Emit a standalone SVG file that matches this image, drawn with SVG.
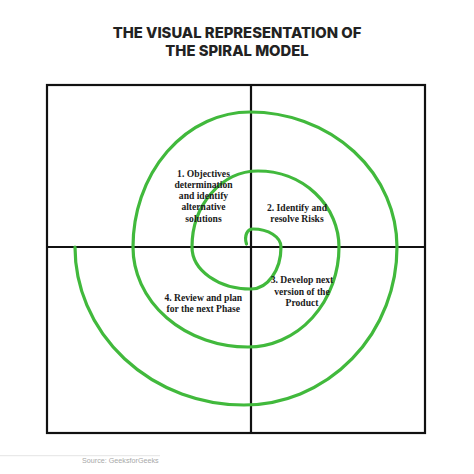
<svg xmlns="http://www.w3.org/2000/svg" width="474" height="474" viewBox="0 0 474 474">
<style>
.title{font-family:Inter,"Liberation Sans",sans-serif;font-weight:800;font-size:14.8px;fill:#222;text-anchor:middle}
.lbl{font-family:"Liberation Serif","Times New Roman",serif;font-weight:bold;font-size:9.6px;fill:#1a1a1a;text-anchor:middle}
.axis{stroke:#111;stroke-width:2.2;fill:none}
.spiral{stroke:#41b93c;stroke-width:3.2;fill:none;stroke-linecap:round}
.src{font-family:"Liberation Sans",Arial,sans-serif;font-size:7.2px;fill:#a8a8a8}
</style>
<rect width="474" height="474" fill="#fff"/>
<g id="title">
<text class="title" x="237" y="38.3">THE VISUAL REPRESENTATION OF</text>
<text class="title" x="237" y="56">THE SPIRAL MODEL</text>
</g>
<g id="quadrants">
<rect class="axis" x="47" y="85" width="378" height="348"/>
<line class="axis" x1="251" y1="85" x2="251" y2="433"/>
<line class="axis" x1="47" y1="247" x2="425" y2="247"/>
</g>
<g id="connectors">
<path class="spiral" d="M 246.5,244 C 244,236 247,229 253,229 A 28 18 0 0 1 281,247 A 30 42 0 0 1 251,289 A 59 42 0 0 1 192,247 A 66 76 0 0 1 258,171 A 81 76 0 0 1 339,247 A 91 100 0 0 1 248,347 A 115 100 0 0 1 133,247 A 117 135 0 0 1 250,112 A 147 135 0 0 1 397,247 A 153 158 0 0 1 244,405 A 169 158 0 0 1 75,247"/>
</g>
<g id="phase1">
<text class="lbl" x="203.5" y="176.7">1. Objectives</text>
<text class="lbl" x="203.5" y="188">determination</text>
<text class="lbl" x="203.5" y="199">and identify</text>
<text class="lbl" x="203.5" y="210.2">alternative</text>
<text class="lbl" x="203.5" y="221.5">solutions</text>
</g>
<g id="phase2">
<text class="lbl" x="297" y="210.6">2. Identify and</text>
<text class="lbl" x="297" y="222.2">resolve Risks</text>
</g>
<g id="phase3">
<text class="lbl" x="302" y="283.3">3. Develop next</text>
<text class="lbl" x="302" y="294.5">version of the</text>
<text class="lbl" x="302" y="305.7">Product</text>
</g>
<g id="phase4">
<text class="lbl" x="203.3" y="300.7">4. Review and plan</text>
<text class="lbl" x="203.3" y="312.3">for the next Phase</text>
</g>
<g id="source">
<line x1="0" y1="455.7" x2="160" y2="455.7" stroke="#dcdcdc" stroke-width="0.8"/>
<text class="src" x="82" y="463.3">Source: GeeksforGeeks</text>
</g>
</svg>
